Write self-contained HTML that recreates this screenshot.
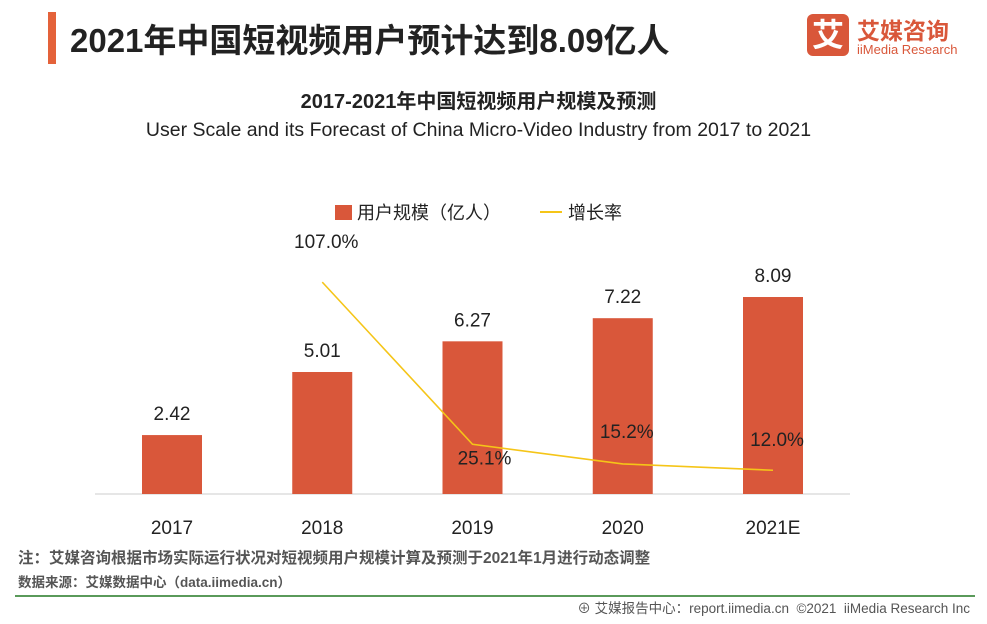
<!DOCTYPE html>
<html><head><meta charset="utf-8"><style>
body{margin:0;width:987px;height:624px;background:#fff;position:relative;overflow:hidden;font-family:"Liberation Sans","Noto Sans CJK SC",sans-serif;}
.abs{position:absolute;white-space:nowrap;}
</style></head><body>
<div class="abs" style="left:48px;top:12px;width:8px;height:52px;background:#e4623a"></div>
<div class="abs" style="left:70px;top:14px;font-size:33px;font-weight:bold;color:#222">2021年中国短视频用户预计达到8.09亿人</div>
<div class="abs" style="left:807px;top:14px;">
  <div style="position:absolute;left:0;top:0;width:42px;height:42px;background:#d9573a;border-radius:6px;color:#fff;font-size:32px;font-weight:bold;text-align:center;line-height:42px">艾</div>
  <div style="position:absolute;left:50px;top:-2px;font-size:23px;font-weight:bold;color:#d9573a">艾媒咨询</div>
  <div style="position:absolute;left:50px;top:28px;font-size:13px;color:#d9573a">iiMedia Research</div>
</div>
<div class="abs" style="left:0;width:957px;text-align:center;top:85px;font-size:20px;font-weight:bold;color:#222">2017-2021年中国短视频用户规模及预测</div>
<div class="abs" style="left:0;width:957px;text-align:center;top:119px;font-size:19.5px;color:#222">User Scale and its Forecast of China Micro-Video Industry from 2017 to 2021</div>
<svg class="abs" style="left:0;top:0" width="987" height="624">
<g id="legend">
<rect x="335" y="205" width="17" height="15" fill="#d9573a"/>
<text x="357" y="219" font-size="18" fill="#222">用户规模（亿人）</text>
<line x1="540" y1="212" x2="562" y2="212" stroke="#f5c518" stroke-width="2"/>
<text x="568" y="219" font-size="18" fill="#222">增长率</text>
</g>
<line x1="95" y1="494" x2="850" y2="494" stroke="#ccc"/>
<g id="marks"></g>
</svg>
<div class="abs" style="left:18px;top:546px;font-size:15.5px;font-weight:bold;color:#555">注：艾媒咨询根据市场实际运行状况对短视频用户规模计算及预测于2021年1月进行动态调整</div>
<div class="abs" style="left:18px;top:571px;font-size:13.5px;font-weight:bold;color:#555">数据来源：艾媒数据中心（data.iimedia.cn）</div>
<div class="abs" style="left:15px;top:595px;width:960px;height:2px;background:#5a9a5a"></div>
<div class="abs" style="right:17px;top:597px;font-size:13.5px;color:#555">⊕ 艾媒报告中心：report.iimedia.cn &nbsp;©2021 &nbsp;iiMedia Research Inc</div>
<script>
const categories=["2017","2018","2019","2020","2021E"];
const users=[2.42,5.01,6.27,7.22,8.09];
const growth=[null,107.0,25.1,15.2,12.0];
const NS="http://www.w3.org/2000/svg";
const g=document.getElementById('marks');
const x=i=>172+i*150.25;
const yb=v=>494-v*24.35;
const yl=v=>494-v*1.98;
function mk(t,a){const e=document.createElementNS(NS,t);for(const k in a)e.setAttribute(k,a[k]);g.appendChild(e);return e;}
users.forEach((v,i)=>{
 const r=mk('rect',{x:x(i)-30,y:yb(v),width:60,height:494-yb(v),fill:'#d9573a'});
 
 
 const t=mk('text',{x:x(i),y:yb(v)-15,'text-anchor':'middle','font-size':19,fill:'#222'});t.textContent=v.toFixed(2);
 
 
 const c=mk('text',{x:x(i),y:534,'text-anchor':'middle','font-size':19,fill:'#222'});c.textContent=categories[i];
 
 
});
let pts=[];growth.forEach((v,i)=>{if(v!==null)pts.push(x(i)+','+yl(v));});
const pl=mk('polyline',{points:pts.join(' '),fill:'none',stroke:'#f5c518','stroke-width':1.6});


const offs=[null,[4,-34],[12,20],[4,-26],[4,-24]];
growth.forEach((v,i)=>{if(v===null)return;
 const t=mk('text',{x:x(i)+offs[i][0],y:yl(v)+offs[i][1],'text-anchor':'middle','font-size':19,fill:'#222'});t.textContent=v.toFixed(1)+'%';
 
 
});
</script>
</body></html>
